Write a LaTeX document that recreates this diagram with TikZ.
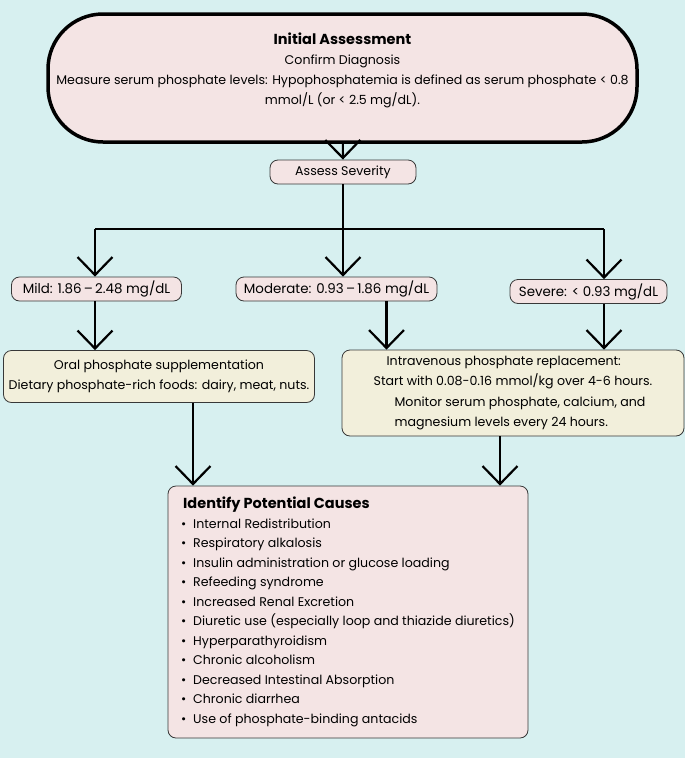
\documentclass[tikz,border=0pt]{standalone}
\usepackage{fontspec}
\setmainfont{Poppins}
\usetikzlibrary{arrows.meta,
                positioning
            }
\definecolor{bgcyan}{HTML}{D7F0F0}
\definecolor{pinkfill}{HTML}{F4E4E4}
\definecolor{beigefill}{HTML}{F2EFDB}
\definecolor{edgegray}{HTML}{383838}
\newcommand{\heading}[1]{{\fontsize{14.5}{16}\selectfont\textbf{#1}}}

\begin{document}
\begin{tikzpicture}[x=1pt, y=-1pt,
        font=\fontsize{12.6}{20.2}\selectfont,
        box/.style={draw=edgegray, line width=0.8pt, rounded corners=8pt, inner sep=0pt, align=center},
        pinkbox/.style={box, fill=pinkfill},
        beigebox/.style={box, fill=beigefill},
        levelbox/.style={pinkbox, minimum height=24pt, font=\fontsize{13.4}{16}\selectfont},
        link/.style={line width=2.2pt},
        arr/.style={link, -{Straight Barb[length=18pt, width=35pt]}}]
            \fill[bgcyan] (0, 0) rectangle (685, 758);
            \useasboundingbox (0, 0) rectangle (685, 758);
            % boxes
            \node[pinkbox, draw=black, line width=3.5pt, rounded corners=55pt, minimum width=589pt, minimum height=128pt] (init) at (342.5, 78) {};
            \node[align=center, inner sep=0pt] (initText) at (342.5, 70.5) {\heading{Initial Assessment}\\Confirm Diagnosis\\Measure serum phosphate levels: Hypophosphatemia is defined as serum phosphate < 0.8\\mmol/L (or < 2.5 mg/dL).};
            \node[pinkbox, minimum width=146pt, minimum height=24pt] (assess) at (343, 172) {Assess Severity};
            \node[levelbox, minimum width=170pt] (mild) at (96.5, 289) {Mild: 1.86\,–\,2.48 mg/dL};
            \node[levelbox, minimum width=201pt] (moderate) at (336.5, 289) {Moderate: 0.93\,–\,1.86 mg/dL};
            \node[levelbox, minimum width=157pt] (severe) at (588.5, 291.5) {Severe: < 0.93 mg/dL};
            \node[beigebox, minimum width=311pt, minimum height=52pt] (oral) at (159, 376.5) {Oral phosphate supplementation\\Dietary phosphate-rich foods: dairy, meat, nuts.};
            \node[beigebox, align=left, minimum width=342pt, minimum height=86pt] (iv) at (513, 393) {\hspace{13pt}Intravenous phosphate replacement:\\Start with 0.08-0.16 mmol/kg over 4-6 hours.\\\hspace{21pt}Monitor serum phosphate, calcium, and\\\hspace{21pt}magnesium levels every 24 hours.};
            \node[pinkbox, minimum width=360pt, minimum height=252pt] (causes) at (348, 612) {};
            \node[align=left, anchor=north west, inner sep=0pt, font=\fontsize{12.6}{19.5}\selectfont] (causesText) at (181, 497) {\hspace{2pt}\heading{Identify Potential Causes}\\
                \makebox[12pt][l]{•}Internal Redistribution\\
                \makebox[12pt][l]{•}Respiratory alkalosis\\
                \makebox[12pt][l]{•}Insulin administration or glucose loading\\
                \makebox[12pt][l]{•}Refeeding syndrome\\
                \makebox[12pt][l]{•}Increased Renal Excretion\\
                \makebox[12pt][l]{•}Diuretic use (especially loop and thiazide diuretics)\\
                \makebox[12pt][l]{•}Hyperparathyroidism\\
                \makebox[12pt][l]{•}Chronic alcoholism\\
                \makebox[12pt][l]{•}Decreased Intestinal Absorption\\
                \makebox[12pt][l]{•}Chronic diarrhea\\
                \makebox[12pt][l]{•}Use of phosphate-binding antacids};
            % connectors
            \coordinate (split) at (343, 229);
            \coordinate (splitL) at (95, 229);
            \coordinate (splitR) at (604, 229);
            \draw[arr] (init) -- (assess);
            \draw[link] (assess) -- (split);
            \draw[link] (splitL) -- (splitR);
            \draw[arr] (splitL) -- (splitL |- mild.north);
            \draw[arr] (split) -- (split |- moderate.north);
            \draw[arr] (splitR) -- (splitR |- severe.north);
            \draw[arr] (mild.south -| splitL) -- (splitL |- oral.north);
            \draw[arr] ([xshift=50pt]moderate.south) -- ([xshift=50pt]moderate.south |- iv.north);
            \draw[arr] (severe.south -| splitR) -- (splitR |- iv.north);
            \draw[arr] ([xshift=34pt]oral.south) -- ([xshift=34pt]oral.south |- causes.north);
            \draw[arr] ([xshift=-13pt]iv.south) -- ([xshift=-13pt]iv.south |- causes.north);
        \end{tikzpicture}
\end{document}
